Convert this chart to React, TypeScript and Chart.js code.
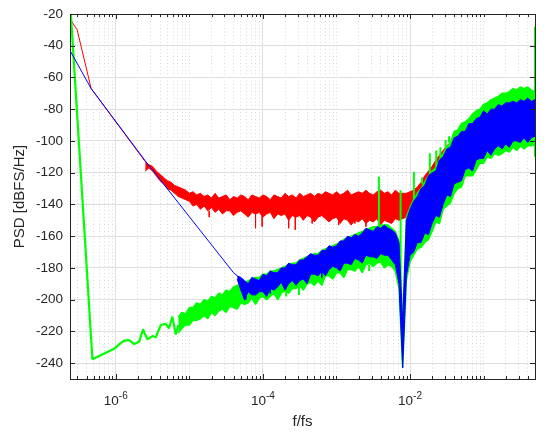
import React, { useEffect, useRef } from "react";
import { Chart, registerables } from "chart.js";

Chart.register(...registerables);

const FONT = '"Liberation Sans", Arial, Helvetica, sans-serif';
const X_MIN = 2.384e-7;
const X_MAX = 0.5;
const Y_MIN = -250;
const Y_MAX = -20;
const xTitle = "f/fs";
const yTitle = "PSD [dBFS/Hz]";
const yTicks = [-240, -220, -200, -180, -160, -140, -120, -100, -80, -60, -40, -20];
const xMajorTicks = [1e-6, 1e-4, 1e-2];
const xMajorExp = ["-6", "-4", "-2"];

// thin (non-noisy) parts, log10(f/fs) and dB
const redLineLogF = [-6.623, -6.525, -6.335, -5.6];
const redLineDb = [-23, -30, -67, -113];
const blueLineLogF = [-6.623, -6.335, -5.6, -4.4, -4.35];
const blueLineDb = [-43, -67, -112.5, -183, -185];
const greenLineLogF = [-6.623, -6.318, -6.023, -5.95, -5.887, -5.819, -5.751, -5.683, -5.629, -5.6, -5.571, -5.503, -5.457, -5.389, -5.321, -5.276, -5.231, -5.185, -5.15];
const greenLineDb = [-11, -237.5, -231, -228, -225.8, -225.5, -228, -226.5, -218.7, -222, -225, -223, -223.7, -216, -215.3, -218, -210.7, -222, -216];

// log10(f/fs) grid of the noisy bands
const bandLogF = [
  -5.6, -5.55, -5.5, -5.45, -5.4, -5.35, -5.3, -5.25, -5.2, -5.15,
  -5.1, -5.05, -5.0, -4.95, -4.9, -4.85, -4.8, -4.75, -4.7, -4.65,
  -4.6, -4.55, -4.5, -4.45, -4.4, -4.35, -4.3, -4.25, -4.2, -4.15,
  -4.1, -4.05, -4.0, -3.95, -3.9, -3.85, -3.8, -3.75, -3.7, -3.65,
  -3.6, -3.55, -3.5, -3.45, -3.4, -3.35, -3.3, -3.25, -3.2, -3.15,
  -3.1, -3.05, -3.0, -2.95, -2.9, -2.85, -2.8, -2.75, -2.7, -2.65,
  -2.6, -2.55, -2.5, -2.45, -2.4, -2.35, -2.3, -2.25, -2.2, -2.15,
  -2.1, -2.05, -2.0, -1.95, -1.9, -1.85, -1.8, -1.75, -1.7, -1.65,
  -1.6, -1.55, -1.5, -1.45, -1.4, -1.35, -1.3, -1.25, -1.2, -1.15,
  -1.1, -1.05, -1.0, -0.95, -0.9, -0.85, -0.8, -0.75, -0.7, -0.65,
  -0.6, -0.55, -0.5, -0.45, -0.4, -0.35, -0.301,
];

// red band (starts at bandLogF[0])
const redHi = [
  -113, -115, -116, -119, -121, -123, -125, -126, -128, -129,
  -130, -131, -133, -132, -134, -133, -135, -134, -136, -133,
  -136, -135, -134, -137, -135, -136, -134, -135, -137, -134,
  -135, -136, -134, -135, -137, -134, -135, -136, -133, -135,
  -134, -136, -133, -135, -134, -133, -135, -133, -134, -132,
  -133, -134, -132, -134, -133, -131, -134, -133, -132, -133,
  -131, -133, -134, -132, -131, -133, -132, -134, -131, -133,
  -133, -133, -132, -131, -129, -126, -122, -119, -116, -112,
  -109, -106, -103, -101, -99, -96, -93, -91, -89, -87,
  -85, -83, -81, -80, -79, -78, -77, -76, -75, -75,
  -74, -74, -74, -73, -73, -73, -74,
];
const redLo = [
  -119, -117, -119, -122, -125, -127, -130, -131, -133, -135,
  -136, -137, -138, -141, -140, -143, -141, -144, -142, -145,
  -143, -146, -144, -144, -147, -145, -144, -146, -148, -145,
  -146, -145, -148, -146, -145, -149, -146, -147, -146, -150,
  -147, -148, -147, -150, -147, -148, -151, -148, -147, -149,
  -151, -149, -148, -152, -149, -150, -153, -150, -151, -149,
  -152, -150, -151, -149, -153, -150, -151, -152, -149, -150,
  -149, -148, -146, -144, -142, -140, -138, -136, -134, -132,
  -130, -128, -126, -124, -122, -120, -118, -116, -114, -112,
  -110, -108, -107, -106, -105, -104, -103, -103, -102, -102,
  -102, -102, -102, -102, -103, -102, -103,
];

// green band (starts at bandLogF[9])
const greenHi = [
  -211, -208, -209, -205, -205, -202, -203, -200, -201, -198,
  -199, -196, -197, -194, -195, -192, -191, -190, -190,
  -188, -187, -186, -186, -184, -184, -182, -182, -181, -180,
  -179, -178, -177, -177, -175, -174, -173, -172, -171, -171,
  -169, -168, -167, -166, -165, -164, -162, -161, -160, -159,
  -158, -157, -156, -155, -154, -154, -153, -153, -153, -155,
  -157, -163,
  -215, -148, -142,
  -137, -133, -130, -126, -122, -119, -117, -112, -108, -104, -101,
  -94, -93, -89, -88, -86, -83, -81, -80, -77, -76,
  -74, -73, -72, -70, -70, -69, -67, -68, -66, -67,
  -66, -68, -69,
];
const greenLo = [
  -221, -218, -216, -216, -213, -213, -212, -210, -212, -208,
  -210, -207, -206, -208, -204, -205, -206, -202, -203,
  -202, -199, -203, -199, -198, -200, -198, -196, -200, -196,
  -194, -196, -193, -193, -191, -194, -190, -189, -191, -188,
  -191, -185, -185, -187, -183, -183, -186, -181, -181, -182,
  -179, -183, -178, -177, -179, -177, -176, -180, -178, -179,
  -182, -193,
  -243, -188, -176,
  -172, -168, -167, -164, -162, -157, -151, -152, -143, -141,
  -139, -133, -130, -129, -122, -122, -122, -118, -114, -114,
  -110, -111, -108, -109, -108, -106, -107, -104, -106, -103,
  -105, -103, -103, -102,
];

// blue band (starts at bandLogF[25])
const blueHi = [
  -185, -186, -188, -190, -186, -187, -188, -184, -185, -182,
  -183, -183, -180, -180, -177, -178, -178, -175, -175, -173,
  -171, -172, -172, -169, -169, -166, -167, -166, -163, -163,
  -160, -161, -159, -160, -158, -155, -156, -157, -154, -155,
  -153, -155, -156, -158, -164, -215, -150, -143, -138, -135,
  -130, -128, -122, -120, -119, -112, -110, -105, -104, -98,
  -97, -94, -94, -89, -89, -86, -85, -81, -83, -80,
  -80, -77, -78, -76, -76, -75, -76, -74, -75, -73,
  -75, -74,
];
const blueLo = [
  -187, -194, -200, -195, -197, -197, -195, -195, -198, -193,
  -194, -192, -189, -194, -190, -188, -191, -188, -187, -190,
  -184, -184, -185, -182, -185, -181, -179, -180, -182, -177,
  -177, -178, -174, -175, -177, -172, -173, -173, -174, -171,
  -172, -172, -175, -178, -190, -243, -185, -172, -170, -164,
  -164, -158, -159, -152, -147, -148, -140, -134, -135, -127,
  -126, -125, -118, -117, -119, -112, -111, -111, -106, -109,
  -105, -103, -105, -102, -104, -100, -100, -101, -98, -101,
  -98, -97,
];

// isolated spectral lines / spikes
const greenSpikeLogF = [-3.683, -3.51, -2.556, -2.423, -2.128, -1.947, -1.836, -1.73, -1.644, -1.587, -1.516, -1.47, -0.3015];
const greenSpikeFrom = [-193, -192, -178, -155, -190, -139, -127, -121, -118, -112, -105, -101, -110];
const greenSpikeTo = [-198, -197, -182, -122.5, -131, -119.4, -123, -107.8, -106, -104, -99.4, -97, -28];
const redSpikeLogF = [-4.73, -4.1, -4.01, -3.65, -3.56, -3.33, -2.97, -2.75, -2.6];
const redSpikeFrom = [-144, -145, -145, -147, -147, -147, -149, -150, -150];
const redSpikeTo = [-148, -155, -154, -155, -156, -152, -153, -152, -154];
const blueSpikeLogF = [-4.233, -3.9, -3.2];
const blueSpikeFrom = [-195, -192, -182];
const blueSpikeTo = [-200, -196, -186];

const RED = "#ff0000";
const GREEN = "#00ff00";
const BLUE = "#0000ff";
const AXIS = "#262626";

const linePts = (logs: number[], vals: number[]) => vals.map((v, i) => ({ x: Math.pow(10, logs[i]), y: v }));
const bandPts = (vals: number[], start: number) => vals.map((v, i) => ({ x: Math.pow(10, bandLogF[start + i]), y: v }));
const spikePts = (logs: number[], a: number[], b: number[]) =>
  logs.flatMap((l, i) => [
    { x: Math.pow(10, l), y: a[i] },
    { x: Math.pow(10, l), y: b[i] },
    { x: Math.pow(10, l), y: null },
  ]);

const xMinorTicks: number[] = [];
for (let e = -7; e <= -1; e++) {
  for (let k = 1; k <= 9; k++) {
    const v = k * Math.pow(10, e);
    if (v < X_MIN || v > X_MAX) continue;
    if (k === 1 && (e === -6 || e === -4 || e === -2)) continue;
    xMinorTicks.push(v);
  }
}

const decorations = {
  id: "decorations",
  afterDraw(chart: any) {
    const { ctx, chartArea: a } = chart;
    const xs = chart.scales.x;
    const ys = chart.scales.y;
    ctx.save();
    ctx.strokeStyle = AXIS;
    ctx.lineWidth = 1;
    ctx.beginPath();
    xMajorTicks.forEach((v) => {
      const p = Math.round(xs.getPixelForValue(v)) + 0.5;
      ctx.moveTo(p, a.bottom);
      ctx.lineTo(p, a.bottom - 5);
      ctx.moveTo(p, a.top);
      ctx.lineTo(p, a.top + 5);
    });
    xMinorTicks.forEach((v) => {
      const p = Math.round(xs.getPixelForValue(v)) + 0.5;
      ctx.moveTo(p, a.bottom);
      ctx.lineTo(p, a.bottom - 3);
      ctx.moveTo(p, a.top);
      ctx.lineTo(p, a.top + 3);
    });
    yTicks.forEach((v) => {
      const p = Math.round(ys.getPixelForValue(v)) + 0.5;
      ctx.moveTo(a.left, p);
      ctx.lineTo(a.left + 5, p);
      ctx.moveTo(a.right, p);
      ctx.lineTo(a.right - 5, p);
    });
    ctx.stroke();
    ctx.strokeRect(Math.round(a.left) + 0.5, Math.round(a.top) + 0.5, Math.round(a.right - a.left), Math.round(a.bottom - a.top));

    ctx.fillStyle = AXIS;
    ctx.textBaseline = "alphabetic";
    ctx.textAlign = "left";
    xMajorTicks.forEach((v, i) => {
      const p = xs.getPixelForValue(v);
      ctx.font = `13.5px ${FONT}`;
      const w1 = ctx.measureText("10").width;
      ctx.font = `10px ${FONT}`;
      const w2 = ctx.measureText(xMajorExp[i]).width;
      const x0 = p - (w1 + w2) / 2;
      ctx.font = `13.5px ${FONT}`;
      ctx.fillText("10", x0, a.bottom + 26);
      ctx.font = `10px ${FONT}`;
      ctx.fillText(xMajorExp[i], x0 + w1, a.bottom + 20);
    });

    ctx.font = `15px ${FONT}`;
    ctx.textAlign = "center";
    ctx.textBaseline = "middle";
    ctx.fillText(xTitle, (a.left + a.right) / 2, a.bottom + 43);
    ctx.translate(12, (a.top + a.bottom) / 2);
    ctx.rotate(-Math.PI / 2);
    ctx.fillText(yTitle, 0, 0);
    ctx.restore();
  },
};

export default function App() {
  const ref = useRef<HTMLCanvasElement>(null);

  useEffect(() => {
    const common = { pointRadius: 0, tension: 0, borderJoinStyle: "bevel" as const, fill: false };
    const datasets: any[] = [
      // red (bottom)
      { ...common, data: linePts(redLineLogF, redLineDb), borderColor: RED, borderWidth: 1, order: 3 },
      { ...common, data: bandPts(redHi, 0), borderColor: RED, borderWidth: 1, order: 3 },
      { ...common, data: bandPts(redLo, 0), borderColor: RED, backgroundColor: RED, borderWidth: 1, fill: 1, order: 3 },
      { ...common, data: spikePts(redSpikeLogF, redSpikeFrom, redSpikeTo), borderColor: RED, borderWidth: 1, order: 3 },
      // green
      { ...common, data: linePts(greenLineLogF, greenLineDb), borderColor: GREEN, borderWidth: 2.2, order: 2 },
      { ...common, data: bandPts(greenHi, 9), borderColor: GREEN, borderWidth: 1.5, order: 2 },
      { ...common, data: bandPts(greenLo, 9), borderColor: GREEN, backgroundColor: GREEN, borderWidth: 1.5, fill: 5, order: 2 },
      { ...common, data: spikePts(greenSpikeLogF, greenSpikeFrom, greenSpikeTo), borderColor: GREEN, borderWidth: 2, order: 2 },
      // blue (top)
      { ...common, data: linePts(blueLineLogF, blueLineDb), borderColor: BLUE, borderWidth: 1, order: 1 },
      { ...common, data: bandPts(blueHi, 25), borderColor: BLUE, borderWidth: 1, order: 1 },
      { ...common, data: bandPts(blueLo, 25), borderColor: BLUE, backgroundColor: BLUE, borderWidth: 1, fill: 9, order: 1 },
      { ...common, data: spikePts(blueSpikeLogF, blueSpikeFrom, blueSpikeTo), borderColor: BLUE, borderWidth: 1, order: 1 },
    ];

    const chart = new Chart(ref.current as HTMLCanvasElement, {
      type: "line",
      data: { datasets },
      options: {
        animation: false,
        responsive: true,
        maintainAspectRatio: false,
        events: [],
        layout: { padding: { left: 0, right: 7, top: 6, bottom: 0 } },
        plugins: { legend: { display: false }, tooltip: { enabled: false }, title: { display: false } },
        scales: {
          x: {
            type: "logarithmic",
            position: "bottom",
            min: X_MIN,
            max: X_MAX,
            afterBuildTicks: (s: any) => {
              s.ticks = xMajorTicks.map((v) => ({ value: v }));
            },
            afterFit: (s: any) => {
              s.height = 47;
              s.paddingLeft = 0;
              s.paddingRight = 0;
            },
            ticks: { display: false },
            grid: { color: "#dfdfdf", lineWidth: 1, drawTicks: false },
            border: { display: false },
          },
          xMinor: {
            type: "logarithmic",
            axis: "x",
            position: "bottom",
            min: X_MIN,
            max: X_MAX,
            afterBuildTicks: (s: any) => {
              s.ticks = xMinorTicks.map((v) => ({ value: v }));
            },
            afterFit: (s: any) => {
              s.height = 0;
              s.paddingLeft = 0;
              s.paddingRight = 0;
            },
            ticks: { display: false },
            grid: { color: "#dadada", lineWidth: 1, drawTicks: false },
            border: { display: false, dash: [1, 2.5] },
          },
          y: {
            type: "linear",
            min: Y_MIN,
            max: Y_MAX,
            afterBuildTicks: (s: any) => {
              s.ticks = yTicks.map((v) => ({ value: v }));
            },
            afterFit: (s: any) => {
              s.width = 62;
              s.paddingTop = 0;
              s.paddingBottom = 0;
            },
            ticks: { color: AXIS, font: { family: FONT, size: 13.5 }, padding: 7 },
            grid: { color: "#dfdfdf", lineWidth: 1, drawTicks: false },
            border: { display: false },
          },
        },
      } as any,
      plugins: [decorations],
    });
    return () => chart.destroy();
  }, []);

  return (
    <div style={{ width: 534, height: 418, position: "relative" }}>
      <canvas ref={ref} />
    </div>
  );
}
